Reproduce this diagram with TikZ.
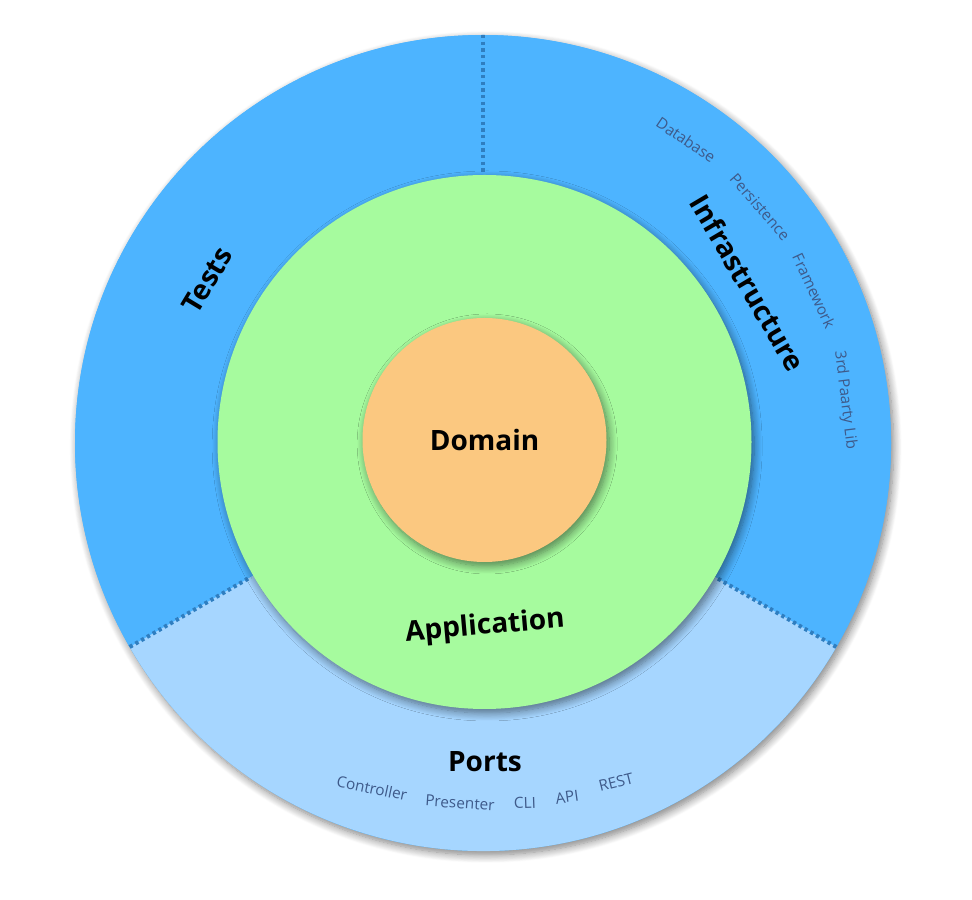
\documentclass[tikz,border=0pt]{standalone}
\usepackage{fontspec}
\setmainfont{Open Sans}
\usetikzlibrary{shadows.blur}
\definecolor{outerblue}{HTML}{4DB4FF}
\definecolor{portblue}{HTML}{A6D6FF}
\definecolor{appgreen}{HTML}{A6FB9E}
\definecolor{domorange}{HTML}{FBC880}
\definecolor{divider}{HTML}{2F7EC0}
\definecolor{smalltext}{HTML}{3E5A8A}
\tikzset{
  big/.style={font=\fontsize{21}{24}\selectfont\bfseries, text=black},
  small/.style={font=\fontsize{11.5}{13}\selectfont, text=smalltext, inner sep=1pt},
  sector/.style={draw=none},
  divline/.style={draw=divider, line width=3pt, dash pattern=on 2.5pt off 2.5pt},
  shad/.style={blur shadow={shadow xshift=2pt, shadow yshift=-3pt, shadow blur steps=10, shadow blur radius=6pt, shadow opacity=50}}
}
\begin{document}
\begin{tikzpicture}[x=0.75pt,y=0.75pt]
\useasboundingbox (0,0) rectangle (972,900);
\coordinate (c) at (483,457);
% outer disk with shadow
\path[shad, fill=outerblue] (c) circle (408);
\fill[sector, fill=outerblue] (c) -- ++(90:408) arc (90:210:408) -- cycle;
\fill[sector, fill=outerblue] (c) -- ++(-30:408) arc (-30:90:408) -- cycle;
\fill[sector, fill=portblue] (c) -- ++(210:408) arc (210:330:408) -- cycle;
\draw[divline] ($(c)+(90:408)$) -- ($(c)+(90:268)$);
\draw[divline] ($(c)+(210:408)$) -- ($(c)+(210:268)$);
\draw[divline] ($(c)+(330:408)$) -- ($(c)+(330:268)$);
% application
\node[shad, circle, fill=appgreen, minimum size=400.5pt, inner sep=0] (app) at (484.5,458) {};
% domain
\node[shad, circle, fill=domorange, minimum size=183pt, inner sep=0, big] (dom) at (484.5,460) {Domain};
% labels
\node[big, rotate=59] (tests) at (207,620) {Tests};
\node[big, rotate=-59.4] (infra) at (748,617) {Infrastructure};
\node[big, rotate=5] (appl) at (485,273) {Application};
\node[big] (ports) at (485,138) {Ports};
\node[small, rotate=-34] (db) at (686,760) {Database};
\node[small, rotate=-49] (pers) at (760,693) {Persistence};
\node[small, rotate=-65] (fw) at (814,609) {Framework};
\node[small, rotate=-83] (lib) at (845,500) {3rd Paarty Lib};
\node[small, rotate=-12] (ctl) at (372,112) {Controller};
\node[small, rotate=-4] (pres) at (460,97) {Presenter};
\node[small, rotate=2] (cli) at (525,97) {CLI};
\node[small, rotate=8] (api) at (567,103) {API};
\node[small, rotate=14] (rest) at (616,118) {REST};
\end{tikzpicture}
\end{document}
